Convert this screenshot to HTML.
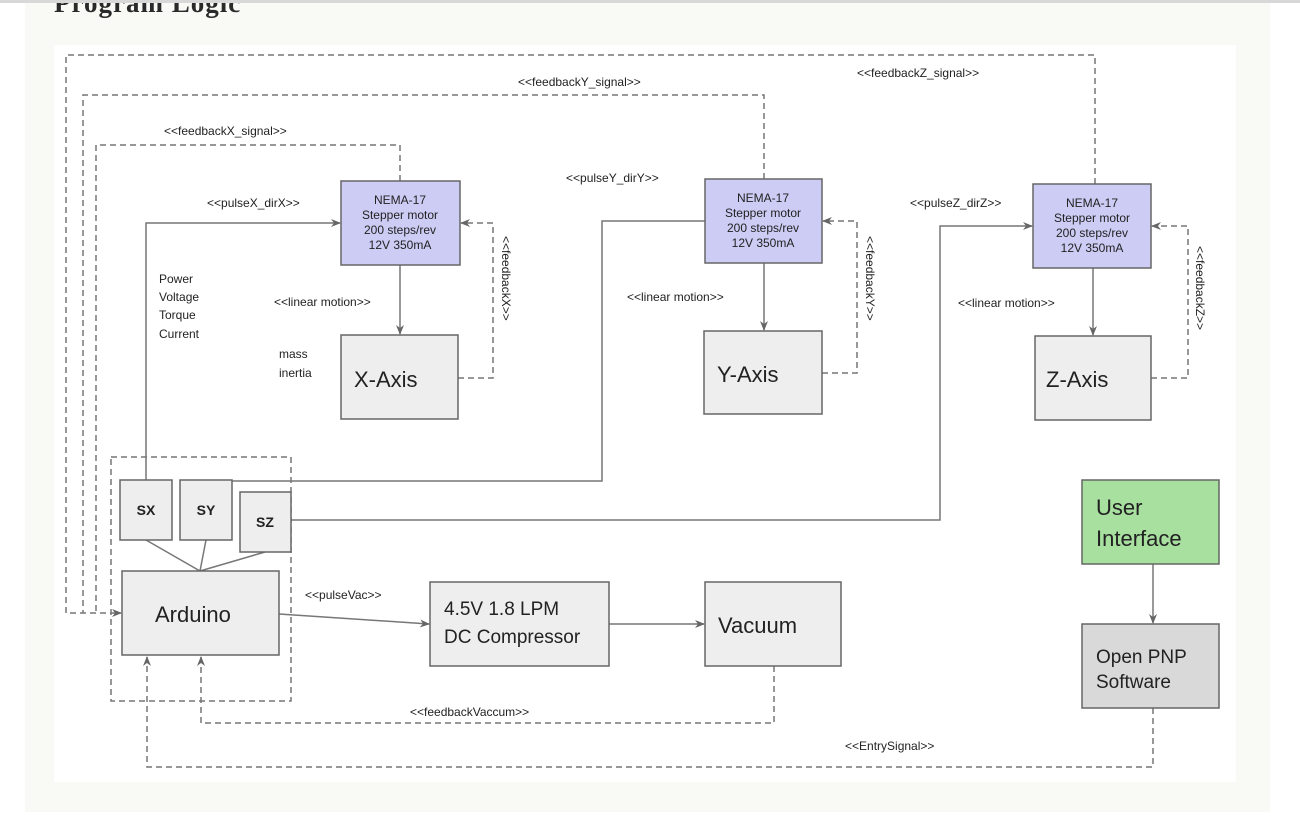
<!DOCTYPE html>
<html><head><meta charset="utf-8"><style>
html,body{margin:0;padding:0;width:1300px;height:816px;overflow:hidden;background:#fff;}
svg{display:block}
</style></head><body>
<svg width="1300" height="816" viewBox="0 0 1300 816" xmlns="http://www.w3.org/2000/svg" font-family="Liberation Sans, Arial, sans-serif">
<defs>
<marker id="a" markerWidth="10" markerHeight="8" refX="9" refY="4" orient="auto" markerUnits="userSpaceOnUse"><path d="M0,0 L10,4 L0,8 L3,4 z" fill="#666"/></marker>
</defs>
<rect x="25" y="0" width="1245" height="812" fill="#f9f9f6"/>
<text x="54" y="12" font-family="Liberation Serif, serif" font-weight="bold" font-size="27" letter-spacing="1" fill="#2a2a2a">Program Logic</text>
<rect x="0" y="0" width="1300" height="3" fill="#d8d8d8"/>
<rect x="54" y="45" width="1182" height="737" fill="#fff"/>

<g fill="none" stroke="#777" stroke-width="1.5" stroke-dasharray="6,4">
<polyline points="1095,184 1095,55 66,55 66,613 121,613" marker-end="url(#a)"/>
<polyline points="764,179 764,95 83,95 83,613"/>
<polyline points="400,181 400,145 96,145 96,613"/>
<polyline points="458,378 493,378 493,223 461,223" marker-end="url(#a)"/>
<polyline points="822,373 857,373 857,221 823,221" marker-end="url(#a)"/>
<polyline points="1151,378 1188,378 1188,226 1152,226" marker-end="url(#a)"/>
<rect x="111" y="457" width="180" height="244"/>
<polyline points="774,666 774,723 201,723 201,657" marker-end="url(#a)"/>
<polyline points="1153,708 1153,767 147,767 147,657" marker-end="url(#a)"/>
</g>

<g fill="none" stroke="#777" stroke-width="1.5">
<polyline points="146,480 146,223 340,223" marker-end="url(#a)"/>
<polyline points="208,481 602,481 602,221 705,221"/>
<polyline points="291,520 940,520 940,226 1032,226" marker-end="url(#a)"/>
<line x1="400" y1="265" x2="400" y2="334" marker-end="url(#a)"/>
<line x1="764" y1="263" x2="764" y2="330" marker-end="url(#a)"/>
<line x1="1093" y1="268" x2="1093" y2="335" marker-end="url(#a)"/>
<line x1="146" y1="540" x2="200" y2="571"/>
<line x1="206" y1="540" x2="200" y2="571"/>
<line x1="265" y1="552" x2="200" y2="571"/>
<line x1="279" y1="614" x2="429" y2="624" marker-end="url(#a)"/>
<line x1="609" y1="624" x2="704" y2="624" marker-end="url(#a)"/>
<line x1="1153" y1="564" x2="1153" y2="623" marker-end="url(#a)"/>
</g>

<g stroke="#666" stroke-width="1.5">
<rect x="341" y="181" width="119" height="84" fill="#ccccf5"/>
<rect x="705" y="179" width="117" height="84" fill="#ccccf5"/>
<rect x="1033" y="184" width="118" height="84" fill="#ccccf5"/>
<rect x="341" y="335" width="117" height="84" fill="#eeeeee"/>
<rect x="704" y="331" width="118" height="83" fill="#eeeeee"/>
<rect x="1035" y="336" width="116" height="84" fill="#eeeeee"/>
<rect x="120" y="480" width="52" height="60" fill="#eeeeee"/>
<rect x="180" y="480" width="52" height="60" fill="#eeeeee"/>
<rect x="240" y="492" width="51" height="60" fill="#eeeeee"/>
<rect x="122" y="571" width="157" height="84" fill="#eeeeee"/>
<rect x="430" y="582" width="179" height="84" fill="#eeeeee"/>
<rect x="705" y="582" width="136" height="84" fill="#eeeeee"/>
<rect x="1082" y="480" width="137" height="84" fill="#a8e0a0"/>
<rect x="1082" y="624" width="137" height="84" fill="#d9d9d9"/>
</g>

<g font-size="12" fill="#222" text-anchor="middle">
<text x="400" y="204">NEMA-17</text><text x="400" y="219">Stepper motor</text><text x="400" y="234">200 steps/rev</text><text x="400" y="249">12V 350mA</text>
<text x="763" y="202">NEMA-17</text><text x="763" y="217">Stepper motor</text><text x="763" y="232">200 steps/rev</text><text x="763" y="247">12V 350mA</text>
<text x="1092" y="207">NEMA-17</text><text x="1092" y="222">Stepper motor</text><text x="1092" y="237">200 steps/rev</text><text x="1092" y="252">12V 350mA</text>
</g>
<g font-size="22" fill="#222">
<text x="354" y="387">X-Axis</text>
<text x="717" y="382">Y-Axis</text>
<text x="1046" y="387">Z-Axis</text>
<text x="155" y="622">Arduino</text>
<text x="718" y="633">Vacuum</text>
<text x="1096" y="515">User</text><text x="1096" y="546">Interface</text>
</g>
<g font-size="19" fill="#222">
<text x="444" y="615">4.5V 1.8 LPM</text><text x="444" y="643">DC Compressor</text>
<text x="1096" y="663">Open PNP</text><text x="1096" y="688">Software</text>
</g>
<g font-size="14" font-weight="bold" fill="#222" text-anchor="middle">
<text x="146" y="515">SX</text><text x="206" y="515">SY</text><text x="265" y="527">SZ</text>
</g>
<g font-size="12" fill="#222">
<text x="518" y="86">&lt;&lt;feedbackY_signal&gt;&gt;</text>
<text x="857" y="77">&lt;&lt;feedbackZ_signal&gt;&gt;</text>
<text x="164" y="135">&lt;&lt;feedbackX_signal&gt;&gt;</text>
<text x="207" y="207">&lt;&lt;pulseX_dirX&gt;&gt;</text>
<text x="566" y="182">&lt;&lt;pulseY_dirY&gt;&gt;</text>
<text x="910" y="207">&lt;&lt;pulseZ_dirZ&gt;&gt;</text>
<text x="274" y="306">&lt;&lt;linear motion&gt;&gt;</text>
<text x="627" y="301">&lt;&lt;linear motion&gt;&gt;</text>
<text x="958" y="307">&lt;&lt;linear motion&gt;&gt;</text>
<text x="159" y="283">Power</text><text x="159" y="301">Voltage</text><text x="159" y="319">Torque</text><text x="159" y="338">Current</text>
<text x="279" y="358">mass</text><text x="279" y="377">inertia</text>
<text x="305" y="599">&lt;&lt;pulseVac&gt;&gt;</text>
<text x="410" y="716">&lt;&lt;feedbackVaccum&gt;&gt;</text>
<text x="845" y="750">&lt;&lt;EntrySignal&gt;&gt;</text>
<text transform="translate(502,236) rotate(90)">&lt;&lt;feedbackX&gt;&gt;</text>
<text transform="translate(866,236) rotate(90)">&lt;&lt;feedbackY&gt;&gt;</text>
<text transform="translate(1196,246) rotate(90)">&lt;&lt;feedbackZ&gt;&gt;</text>
</g>
</svg>
</body></html>
